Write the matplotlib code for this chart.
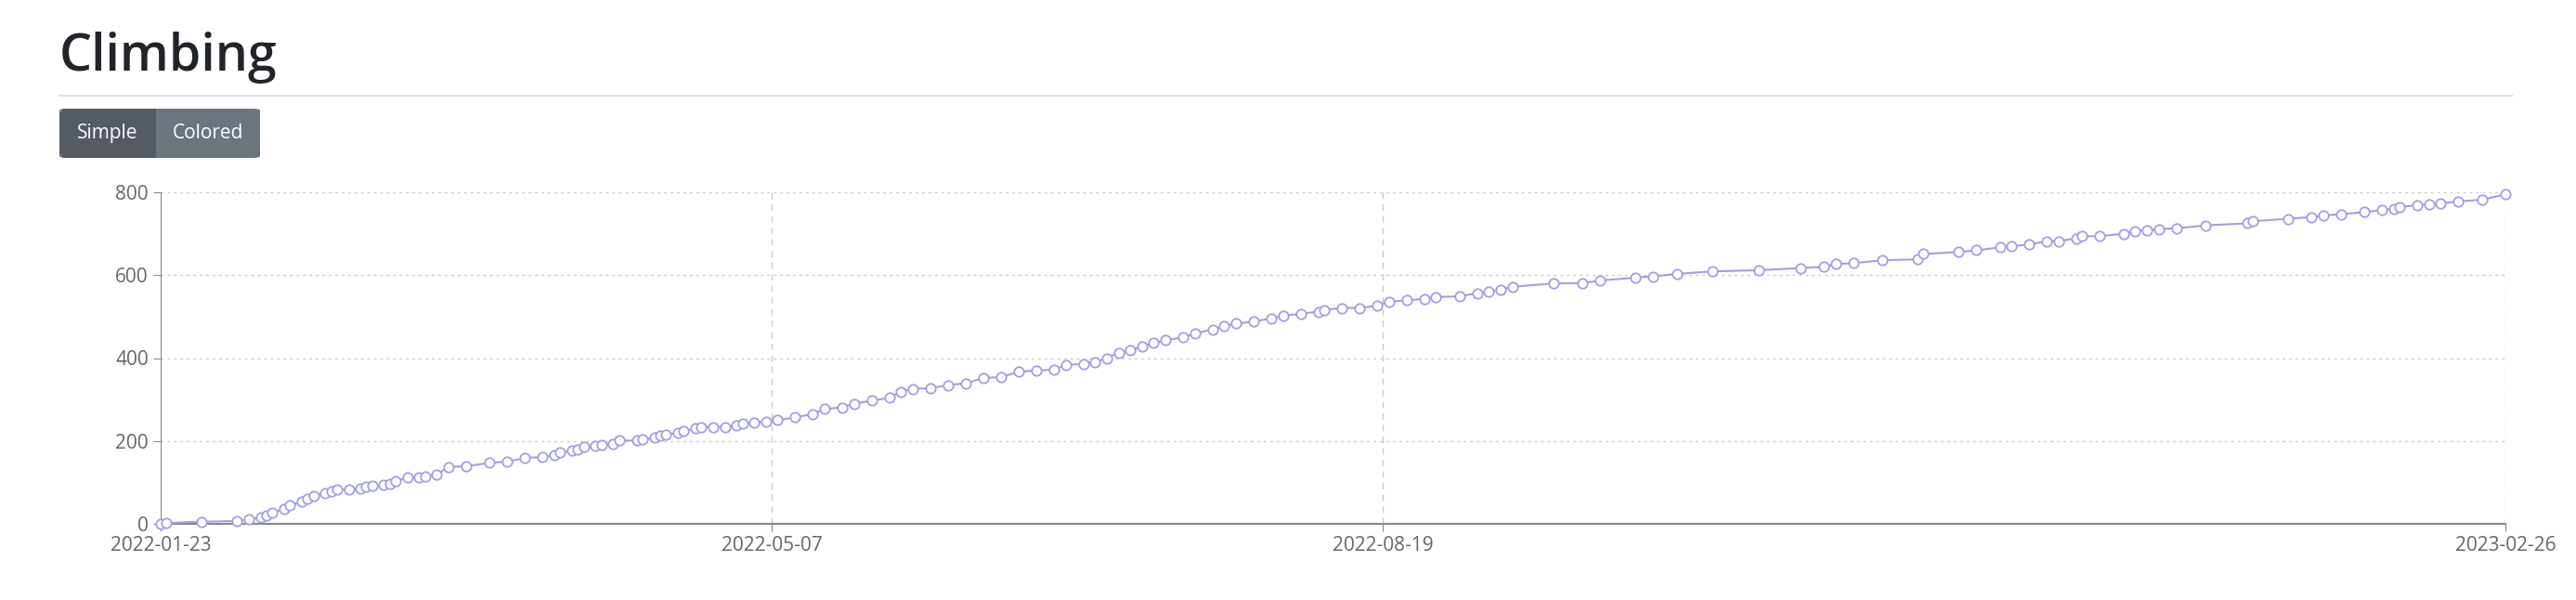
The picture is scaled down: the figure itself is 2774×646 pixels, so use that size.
import datetime as dt

import matplotlib

matplotlib.use("Agg")
import matplotlib.pyplot as plt
import matplotlib.dates as mdates
from matplotlib.patches import FancyBboxPatch

plt.rcParams["font.family"] = ["Open Sans", "DejaVu Sans"]

# ---------------------------------------------------------------------------
# Data: days since 2022-01-23 and cumulative climbing count
# ---------------------------------------------------------------------------
START = dt.date(2022, 1, 23)
days = [
    0, 1, 7, 13, 15, 17, 18, 19, 21, 22, 24, 25, 26, 28, 29, 30, 32, 34, 35, 36,
    38, 39, 40, 42, 44, 45, 47, 49, 52, 56, 59, 62, 65, 67, 68, 70, 71, 72, 74, 75,
    77, 78, 81, 82, 84, 85, 86, 88, 89, 91, 92, 94, 96, 98, 99, 101, 103, 105,
    108, 111, 113, 116, 118, 121, 124, 126, 128, 131, 134, 137, 140, 143, 146, 149,
    152, 154, 157, 159, 161, 163, 165, 167, 169, 171, 174, 176, 179, 181, 183, 186,
    189, 191, 194, 197, 198, 201, 204, 207, 209, 212, 215, 217, 221, 224, 226, 228,
    230, 237, 242, 245, 251, 254, 258, 264, 272, 279, 283, 285, 288, 293, 299, 300,
    306, 309, 313, 315, 318, 321, 323, 326, 327, 330, 334, 336, 338, 340, 343, 348,
    355, 356, 362, 366, 368, 371, 375, 378, 380, 381, 384, 386, 388, 391, 395, 399,
]
climbs = [
    0, 2, 5, 7, 11, 15, 20, 28, 35, 45, 53, 61, 68, 74, 79, 84, 82, 86, 90, 91,
    93, 96, 103, 112, 113, 115, 119, 137, 139, 147, 150, 159, 161, 166, 172, 176, 180, 185, 188, 191,
    193, 201, 201, 204, 208, 212, 215, 220, 224, 230, 233, 234, 234, 237, 242, 245, 247, 250,
    257, 265, 277, 281, 290, 297, 304, 319, 326, 327, 335, 339, 352, 354, 367, 370,
    372, 383, 386, 390, 400, 412, 419, 428, 437, 443, 450, 459, 469, 477, 483, 488,
    496, 502, 507, 512, 516, 521, 521, 526, 536, 539, 543, 547, 549, 556, 560, 564,
    572, 580, 581, 587, 594, 597, 603, 609, 612, 617, 620, 627, 629, 636, 638, 651,
    656, 660, 667, 670, 674, 682, 682, 689, 694, 694, 700, 707, 709, 711, 713, 720,
    725, 730, 736, 740, 744, 747, 752, 757, 760, 764, 769, 771, 773, 778, 782, 795,
]
dates = [START + dt.timedelta(days=d) for d in days]
tick_dates = [dt.date(2022, 1, 23), dt.date(2022, 5, 7), dt.date(2022, 8, 19), dt.date(2023, 2, 26)]
y_ticks = [0, 200, 400, 600, 800]

LINE_COLOR = "#a29ee6"
TEXT_COLOR = "#666666"
GRID_COLOR = "#cccccc"

fig = plt.figure(figsize=(27.74, 6.46), dpi=100)

# --- header: title, divider, button group ---
fig.text(64 / 2774, 1 - 62 / 646, "Climbing", fontsize=40, color="#212529",
         va="center", ha="left", fontweight="semibold")
fig.add_artist(plt.Line2D([64 / 2774, 0.975], [1 - 103 / 646] * 2, color="#dee2e6", lw=1.5))

bx0, bx_mid, bx1 = 64 / 2774, 168 / 2774, 280 / 2774
by0, by1 = 1 - 170 / 646, 1 - 117 / 646
fig.add_artist(FancyBboxPatch((bx0, by0), bx1 - bx0, by1 - by0,
                              boxstyle="round,pad=0,rounding_size=0.003",
                              transform=fig.transFigure, fc="#6c757d", ec="none"))
fig.add_artist(plt.Rectangle((bx0 + 0.001, by0), bx_mid - bx0 - 0.001, by1 - by0,
                             transform=fig.transFigure, fc="#545b62", ec="none"))
fig.add_artist(plt.Rectangle((bx0, by0 + 0.006), 0.002, by1 - by0 - 0.012,
                             transform=fig.transFigure, fc="#545b62", ec="none"))
fig.text((bx0 + bx_mid) / 2, (by0 + by1) / 2, "Simple", color="white", fontsize=15,
         ha="center", va="center")
fig.text((bx_mid + bx1) / 2, (by0 + by1) / 2, "Colored", color="white", fontsize=15,
         ha="center", va="center")

# --- chart ---
ax = fig.add_axes([173 / 2774, 1 - 564 / 646, (2698 - 173) / 2774, (564 - 207) / 646])
ax.plot(dates, climbs, color=LINE_COLOR, lw=1.5, marker="o", markersize=7.5,
        markerfacecolor="white", markeredgecolor=LINE_COLOR, markeredgewidth=1.3,
        clip_on=False, zorder=3)

ax.set_xlim(tick_dates[0], tick_dates[-1])
ax.set_ylim(0, 800)
ax.set_xticks(tick_dates)
ax.xaxis.set_major_formatter(mdates.DateFormatter("%Y-%m-%d"))
ax.set_yticks(y_ticks)

ax.yaxis.grid(True, color=GRID_COLOR, ls=(0, (2, 3)), lw=1)
ax.xaxis.grid(True, color=GRID_COLOR, ls=(0, (5, 4)), lw=1)
ax.set_axisbelow(True)

for side in ("top", "right"):
    ax.spines[side].set_visible(False)
ax.spines["left"].set_color("#888888")
ax.spines["bottom"].set_color("#888888")
ax.spines["bottom"].set_linewidth(1.5)
ax.tick_params(colors="#888888", labelcolor=TEXT_COLOR, labelsize=15, length=6)

fig.savefig("out.png", dpi=100)
